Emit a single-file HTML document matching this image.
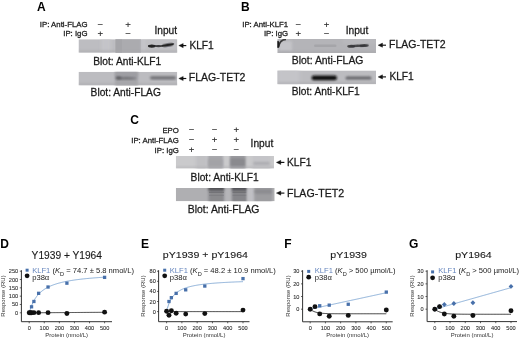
<!DOCTYPE html>
<html><head><meta charset="utf-8"><title>Figure</title>
<style>html,body{margin:0;padding:0;background:#fff;width:520px;height:339px;overflow:hidden}svg{display:block}</style>
</head><body>
<svg width="520" height="339" viewBox="0 0 520 339" font-family="'Liberation Sans', Arial, sans-serif">
<defs><filter id="bl3" x="-50%" y="-50%" width="200%" height="200%"><feGaussianBlur stdDeviation="0.3"/></filter><filter id="bl4" x="-50%" y="-50%" width="200%" height="200%"><feGaussianBlur stdDeviation="0.4"/></filter><filter id="bl5" x="-50%" y="-50%" width="200%" height="200%"><feGaussianBlur stdDeviation="0.5"/></filter><filter id="bl6" x="-50%" y="-50%" width="200%" height="200%"><feGaussianBlur stdDeviation="0.6"/></filter><filter id="bl7" x="-50%" y="-50%" width="200%" height="200%"><feGaussianBlur stdDeviation="0.7"/></filter><filter id="bl8" x="-50%" y="-50%" width="200%" height="200%"><feGaussianBlur stdDeviation="0.8"/></filter><filter id="bl10" x="-50%" y="-50%" width="200%" height="200%"><feGaussianBlur stdDeviation="1.0"/></filter><filter id="bl12" x="-50%" y="-50%" width="200%" height="200%"><feGaussianBlur stdDeviation="1.2"/></filter><filter id="bl15" x="-50%" y="-50%" width="200%" height="200%"><feGaussianBlur stdDeviation="1.5"/></filter><filter id="bl20" x="-50%" y="-50%" width="200%" height="200%"><feGaussianBlur stdDeviation="2.0"/></filter><filter id="bl25" x="-50%" y="-50%" width="200%" height="200%"><feGaussianBlur stdDeviation="2.5"/></filter><filter id="bl30" x="-50%" y="-50%" width="200%" height="200%"><feGaussianBlur stdDeviation="3.0"/></filter><clipPath id="bc0"><rect x="78.5" y="39.2" width="98.80" height="13.60"/></clipPath><clipPath id="bc1"><rect x="78.5" y="71.8" width="98.80" height="13.60"/></clipPath><clipPath id="bc2"><rect x="277.3" y="39.0" width="98.70" height="14.00"/></clipPath><clipPath id="bc3"><rect x="277.3" y="70.4" width="98.70" height="13.80"/></clipPath><clipPath id="bc4"><rect x="175.8" y="155.9" width="98.20" height="12.70"/></clipPath><clipPath id="bc5"><rect x="175.8" y="188.0" width="98.90" height="13.30"/></clipPath></defs>
<rect width="520" height="339" fill="#fff"/>
<text x="37.00" y="10.80" font-size="12" text-anchor="start" font-weight="bold" fill="#000" >A</text>
<text x="87.50" y="27.30" font-size="7.8" text-anchor="end" font-weight="normal" fill="#1a1a1a" stroke="#1a1a1a" stroke-width="0.26">IP: Anti-FLAG</text>
<text x="87.50" y="36.40" font-size="7.8" text-anchor="end" font-weight="normal" fill="#1a1a1a" stroke="#1a1a1a" stroke-width="0.26">IP: IgG</text>
<text x="100.20" y="27.60" font-size="9.6" text-anchor="middle" font-weight="normal" fill="#1a1a1a" stroke="#1a1a1a" stroke-width="0.1">−</text>
<text x="128.00" y="27.60" font-size="9.6" text-anchor="middle" font-weight="normal" fill="#1a1a1a" stroke="#1a1a1a" stroke-width="0.1">+</text>
<text x="100.20" y="36.70" font-size="9.6" text-anchor="middle" font-weight="normal" fill="#1a1a1a" stroke="#1a1a1a" stroke-width="0.1">+</text>
<text x="128.00" y="36.70" font-size="9.6" text-anchor="middle" font-weight="normal" fill="#1a1a1a" stroke="#1a1a1a" stroke-width="0.1">−</text>
<text x="154.40" y="33.80" font-size="10.2" text-anchor="start" font-weight="normal" fill="#1a1a1a" stroke="#1a1a1a" stroke-width="0.26">Input</text>
<g clip-path="url(#bc0)">
<rect x="78.50" y="39.20" width="98.80" height="13.60" fill="#bdbdc1" />
<rect x="101.00" y="35.20" width="10.00" height="21.60" fill="#c8c8cc" opacity="0.7" filter="url(#bl15)"/>
<rect x="115.50" y="35.20" width="25.50" height="21.60" fill="#aaaaae" opacity="0.95" filter="url(#bl11)"/>
<rect x="115.50" y="35.20" width="6.50" height="21.60" fill="#a0a0a4" opacity="0.55" filter="url(#bl14)"/>
<rect x="141.00" y="35.20" width="6.00" height="21.60" fill="#c6c6ca" opacity="0.8" filter="url(#bl12)"/>
<rect x="147.00" y="35.20" width="30.00" height="21.60" fill="#c2c2c6" opacity="0.8" filter="url(#bl10)"/>
<rect x="79.00" y="50.30" width="99.00" height="2.70" fill="#a8a8ac" opacity="0.5" filter="url(#bl8)"/>
<ellipse cx="151.80" cy="46.10" rx="3.90" ry="1.55" fill="#1c1c1e" opacity="0.95" filter="url(#bl7)" transform="rotate(0 151.80 46.10)"/>
<ellipse cx="158.50" cy="46.10" rx="4.50" ry="1.05" fill="#2e2e30" opacity="0.9" filter="url(#bl6)" transform="rotate(0 158.50 46.10)"/>
<ellipse cx="167.80" cy="45.00" rx="6.50" ry="1.60" fill="#1c1c1e" opacity="0.95" filter="url(#bl7)" transform="rotate(-9 167.80 45.00)"/>

</g>
<g clip-path="url(#bc1)">
<rect x="78.50" y="71.80" width="98.80" height="13.60" fill="#bcbcc0" />
<rect x="115.00" y="67.80" width="23.00" height="21.60" fill="#a4a4a8" opacity="0.9" filter="url(#bl12)"/>
<rect x="115.00" y="72.00" width="23.00" height="5.00" fill="#9a9a9e" opacity="0.6" filter="url(#bl12)"/>
<ellipse cx="126.50" cy="78.30" rx="10.50" ry="1.30" fill="#646468" opacity="0.85" filter="url(#bl8)" transform="rotate(0 126.50 78.30)"/>
<ellipse cx="118.50" cy="78.00" rx="3.00" ry="1.40" fill="#48484c" opacity="0.75" filter="url(#bl8)" transform="rotate(0 118.50 78.00)"/>
<rect x="150.00" y="76.20" width="26.00" height="3.20" rx="1.60" fill="#646468" opacity="0.85" filter="url(#bl8)"/>
<rect x="79.00" y="83.00" width="99.00" height="3.00" fill="#a8a8ac" opacity="0.5" filter="url(#bl8)"/>

</g>
<text x="93.30" y="64.80" font-size="10.2" text-anchor="start" font-weight="normal" fill="#1a1a1a" stroke="#1a1a1a" stroke-width="0.26">Blot: Anti-KLF1</text>
<text x="90.60" y="96.40" font-size="10.2" text-anchor="start" font-weight="normal" fill="#1a1a1a" stroke="#1a1a1a" stroke-width="0.26">Blot: Anti-FLAG</text>
<line x1="182.00" y1="45.60" x2="186.30" y2="45.60" stroke="#111" stroke-width="1.15"/>
<path d="M178.80 45.60 L183.20 43.50 L183.20 47.70 Z" fill="#111" stroke="#111" stroke-width="0.4" stroke-linejoin="round"/>
<text x="189.40" y="49.30" font-size="10.2" text-anchor="start" font-weight="normal" fill="#1a1a1a" stroke="#1a1a1a" stroke-width="0.26">KLF1</text>
<line x1="182.00" y1="78.50" x2="186.30" y2="78.50" stroke="#111" stroke-width="1.15"/>
<path d="M178.80 78.50 L183.20 76.40 L183.20 80.60 Z" fill="#111" stroke="#111" stroke-width="0.4" stroke-linejoin="round"/>
<text x="188.80" y="80.90" font-size="10.5" text-anchor="start" font-weight="normal" fill="#1a1a1a" stroke="#1a1a1a" stroke-width="0.26">FLAG-TET2</text>
<text x="241.00" y="10.80" font-size="12" text-anchor="start" font-weight="bold" fill="#000" >B</text>
<text x="288.20" y="27.30" font-size="7.8" text-anchor="end" font-weight="normal" fill="#1a1a1a" stroke="#1a1a1a" stroke-width="0.26">IP: Anti-KLF1</text>
<text x="288.20" y="36.40" font-size="7.8" text-anchor="end" font-weight="normal" fill="#1a1a1a" stroke="#1a1a1a" stroke-width="0.26">IP: IgG</text>
<text x="298.20" y="27.60" font-size="9.6" text-anchor="middle" font-weight="normal" fill="#1a1a1a" stroke="#1a1a1a" stroke-width="0.1">−</text>
<text x="326.60" y="27.60" font-size="9.6" text-anchor="middle" font-weight="normal" fill="#1a1a1a" stroke="#1a1a1a" stroke-width="0.1">+</text>
<text x="298.20" y="36.70" font-size="9.6" text-anchor="middle" font-weight="normal" fill="#1a1a1a" stroke="#1a1a1a" stroke-width="0.1">+</text>
<text x="326.60" y="36.70" font-size="9.6" text-anchor="middle" font-weight="normal" fill="#1a1a1a" stroke="#1a1a1a" stroke-width="0.1">−</text>
<text x="345.70" y="33.80" font-size="10.2" text-anchor="start" font-weight="normal" fill="#1a1a1a" stroke="#1a1a1a" stroke-width="0.26">Input</text>
<g clip-path="url(#bc2)">
<rect x="277.30" y="39.00" width="98.70" height="14.00" fill="#b4b4b8" />
<rect x="279.00" y="41.00" width="13.00" height="10.00" fill="#c6c6ca" opacity="0.9" filter="url(#bl15)"/>
<rect x="314.00" y="44.50" width="22.50" height="2.60" rx="1.30" fill="#9c9ca0" opacity="0.6" filter="url(#bl9)"/>
<rect x="343.00" y="38.00" width="33.00" height="6.00" fill="#bcbcc0" opacity="0.6" filter="url(#bl10)"/>
<ellipse cx="357.70" cy="45.80" rx="10.00" ry="1.20" fill="#3a3a3e" opacity="0.9" filter="url(#bl7)" transform="rotate(-2.5 357.70 45.80)"/>
<ellipse cx="351.20" cy="46.20" rx="4.00" ry="1.50" fill="#333336" opacity="0.8" filter="url(#bl6)" transform="rotate(0 351.20 46.20)"/>
<ellipse cx="364.20" cy="45.40" rx="4.60" ry="1.50" fill="#333336" opacity="0.8" filter="url(#bl6)" transform="rotate(-3 364.20 45.40)"/>
<rect x="278.00" y="51.00" width="98.00" height="3.00" fill="#a4a4a8" opacity="0.5" filter="url(#bl8)"/>
<path d="M286 39.4 Q279.5 39.6 278.4 47.5" stroke="#3a3a3a" stroke-width="1.6" fill="none" filter="url(#bl5)"/><ellipse cx="277.9" cy="44.3" rx="1.5" ry="3.6" fill="#1e1e1e" filter="url(#bl5)"/>
</g>
<g clip-path="url(#bc3)">
<rect x="277.30" y="70.40" width="98.70" height="13.80" fill="#bcbcc0" />
<rect x="277.00" y="66.40" width="23.00" height="21.80" fill="#c6c6ca" opacity="0.8" filter="url(#bl20)"/>
<rect x="311.50" y="75.45" width="25.50" height="4.90" rx="2.45" fill="#0e0e0e" opacity="1.0" filter="url(#bl8)"/>
<rect x="345.50" y="76.40" width="26.00" height="3.20" rx="1.60" fill="#5c5c60" opacity="0.9" filter="url(#bl8)"/>
<rect x="278.00" y="82.00" width="98.00" height="3.00" fill="#a8a8ac" opacity="0.5" filter="url(#bl8)"/>

</g>
<text x="291.80" y="64.20" font-size="10.4" text-anchor="start" font-weight="normal" fill="#1a1a1a" stroke="#1a1a1a" stroke-width="0.26">Blot: Anti-FLAG</text>
<text x="291.80" y="95.00" font-size="10.2" text-anchor="start" font-weight="normal" fill="#1a1a1a" stroke="#1a1a1a" stroke-width="0.26">Blot: Anti-KLF1</text>
<line x1="381.30" y1="45.20" x2="386.00" y2="45.20" stroke="#111" stroke-width="1.15"/>
<path d="M378.10 45.20 L382.50 43.10 L382.50 47.30 Z" fill="#111" stroke="#111" stroke-width="0.4" stroke-linejoin="round"/>
<text x="389.00" y="48.10" font-size="10.5" text-anchor="start" font-weight="normal" fill="#1a1a1a" stroke="#1a1a1a" stroke-width="0.26">FLAG-TET2</text>
<line x1="381.30" y1="76.90" x2="386.00" y2="76.90" stroke="#111" stroke-width="1.15"/>
<path d="M378.10 76.90 L382.50 74.80 L382.50 79.00 Z" fill="#111" stroke="#111" stroke-width="0.4" stroke-linejoin="round"/>
<text x="389.40" y="80.10" font-size="10.2" text-anchor="start" font-weight="normal" fill="#1a1a1a" stroke="#1a1a1a" stroke-width="0.26">KLF1</text>
<text x="130.20" y="124.20" font-size="12" text-anchor="start" font-weight="bold" fill="#000" >C</text>
<text x="178.90" y="133.00" font-size="7.8" text-anchor="end" font-weight="normal" fill="#1a1a1a" stroke="#1a1a1a" stroke-width="0.26">EPO</text>
<text x="178.90" y="143.10" font-size="7.8" text-anchor="end" font-weight="normal" fill="#1a1a1a" stroke="#1a1a1a" stroke-width="0.26">IP: Anti-FLAG</text>
<text x="178.90" y="152.80" font-size="7.8" text-anchor="end" font-weight="normal" fill="#1a1a1a" stroke="#1a1a1a" stroke-width="0.26">IP: IgG</text>
<text x="191.60" y="133.20" font-size="9.6" text-anchor="middle" font-weight="normal" fill="#1a1a1a" stroke="#1a1a1a" stroke-width="0.1">−</text>
<text x="214.60" y="133.20" font-size="9.6" text-anchor="middle" font-weight="normal" fill="#1a1a1a" stroke="#1a1a1a" stroke-width="0.1">−</text>
<text x="236.30" y="133.20" font-size="9.6" text-anchor="middle" font-weight="normal" fill="#1a1a1a" stroke="#1a1a1a" stroke-width="0.1">+</text>
<text x="191.60" y="143.30" font-size="9.6" text-anchor="middle" font-weight="normal" fill="#1a1a1a" stroke="#1a1a1a" stroke-width="0.1">−</text>
<text x="214.60" y="143.30" font-size="9.6" text-anchor="middle" font-weight="normal" fill="#1a1a1a" stroke="#1a1a1a" stroke-width="0.1">+</text>
<text x="236.30" y="143.30" font-size="9.6" text-anchor="middle" font-weight="normal" fill="#1a1a1a" stroke="#1a1a1a" stroke-width="0.1">+</text>
<text x="191.60" y="153.00" font-size="9.6" text-anchor="middle" font-weight="normal" fill="#1a1a1a" stroke="#1a1a1a" stroke-width="0.1">+</text>
<text x="214.60" y="153.00" font-size="9.6" text-anchor="middle" font-weight="normal" fill="#1a1a1a" stroke="#1a1a1a" stroke-width="0.1">−</text>
<text x="236.30" y="153.00" font-size="9.6" text-anchor="middle" font-weight="normal" fill="#1a1a1a" stroke="#1a1a1a" stroke-width="0.1">−</text>
<text x="250.60" y="147.20" font-size="10.2" text-anchor="start" font-weight="normal" fill="#1a1a1a" stroke="#1a1a1a" stroke-width="0.26">Input</text>
<g clip-path="url(#bc4)">
<rect x="175.80" y="155.90" width="98.20" height="12.70" fill="#cacacc" />
<rect x="196.00" y="151.90" width="11.00" height="20.70" fill="#bdbdc1" opacity="0.8" filter="url(#bl15)"/>
<rect x="208.00" y="151.90" width="15.00" height="20.70" fill="#a6a6aa" opacity="0.95" filter="url(#bl12)"/>
<rect x="208.00" y="159.00" width="15.00" height="8.00" fill="#a0a0a4" opacity="0.6" filter="url(#bl12)"/>
<rect x="230.00" y="151.90" width="15.50" height="20.70" fill="#98989c" opacity="0.95" filter="url(#bl10)"/>
<rect x="230.50" y="158.50" width="14.50" height="8.00" fill="#848488" opacity="0.75" filter="url(#bl12)"/>
<rect x="252.00" y="151.90" width="18.50" height="20.70" fill="#c4c4c8" opacity="0.9" filter="url(#bl12)"/>
<rect x="253.00" y="161.70" width="17.00" height="3.20" rx="1.60" fill="#a6a6aa" opacity="0.75" filter="url(#bl10)"/>
<rect x="176.00" y="166.50" width="98.00" height="2.50" fill="#b0b0b4" opacity="0.5" filter="url(#bl8)"/>

</g>
<g clip-path="url(#bc5)">
<rect x="175.80" y="188.00" width="98.90" height="13.30" fill="#afafb2" />
<rect x="208.50" y="184.00" width="16.00" height="21.30" fill="#88888c" opacity="0.95" filter="url(#bl10)"/>
<rect x="208.50" y="186.00" width="16.00" height="4.60" fill="#4a4a4e" opacity="0.85" filter="url(#bl8)"/>
<rect x="224.50" y="184.00" width="6.50" height="21.30" fill="#b8b8bc" opacity="0.7" filter="url(#bl10)"/>
<rect x="232.00" y="184.00" width="15.00" height="21.30" fill="#848488" opacity="0.95" filter="url(#bl10)"/>
<rect x="232.00" y="186.00" width="15.00" height="4.60" fill="#4e4e52" opacity="0.85" filter="url(#bl8)"/>
<rect x="209.00" y="191.80" width="15.00" height="1.10" fill="#606064" opacity="0.55" filter="url(#bl5)"/>
<rect x="232.50" y="191.80" width="14.00" height="1.10" fill="#606064" opacity="0.55" filter="url(#bl5)"/>
<rect x="209.00" y="194.80" width="15.00" height="0.90" fill="#6a6a6e" opacity="0.45" filter="url(#bl5)"/>
<rect x="232.50" y="194.80" width="14.00" height="0.90" fill="#6a6a6e" opacity="0.45" filter="url(#bl5)"/>
<rect x="247.00" y="184.00" width="7.50" height="21.30" fill="#c2c2c6" opacity="0.9" filter="url(#bl10)"/>
<rect x="254.50" y="184.00" width="17.50" height="21.30" fill="#9c9ca0" opacity="0.95" filter="url(#bl10)"/>
<rect x="254.50" y="189.50" width="17.50" height="4.00" fill="#808084" opacity="0.6" filter="url(#bl10)"/>

</g>
<text x="190.60" y="181.20" font-size="10.2" text-anchor="start" font-weight="normal" fill="#1a1a1a" stroke="#1a1a1a" stroke-width="0.26">Blot: Anti-KLF1</text>
<text x="187.80" y="212.80" font-size="10.4" text-anchor="start" font-weight="normal" fill="#1a1a1a" stroke="#1a1a1a" stroke-width="0.26">Blot: Anti-FLAG</text>
<line x1="279.60" y1="162.40" x2="284.40" y2="162.40" stroke="#111" stroke-width="1.15"/>
<path d="M276.40 162.40 L280.80 160.30 L280.80 164.50 Z" fill="#111" stroke="#111" stroke-width="0.4" stroke-linejoin="round"/>
<text x="287.00" y="166.00" font-size="10.2" text-anchor="start" font-weight="normal" fill="#1a1a1a" stroke="#1a1a1a" stroke-width="0.26">KLF1</text>
<line x1="279.60" y1="193.10" x2="284.40" y2="193.10" stroke="#111" stroke-width="1.15"/>
<path d="M276.40 193.10 L280.80 191.00 L280.80 195.20 Z" fill="#111" stroke="#111" stroke-width="0.4" stroke-linejoin="round"/>
<text x="287.00" y="196.70" font-size="10.6" text-anchor="start" font-weight="normal" fill="#1a1a1a" stroke="#1a1a1a" stroke-width="0.26">FLAG-TET2</text>
<text x="0.30" y="247.60" font-size="12" text-anchor="start" font-weight="bold" fill="#000" >D</text>
<text x="31.60" y="259.00" font-size="10.2" text-anchor="start" font-weight="normal" fill="#1a1a1a" stroke="#1a1a1a" stroke-width="0.12">Y1939 + Y1964</text>
<path d="M21.40 270.20 V321.70 H112.00" stroke="#333" stroke-width="1.0" fill="none"/>
<line x1="19.80" y1="312.80" x2="21.40" y2="312.80" stroke="#222" stroke-width="0.7"/>
<text x="18.20" y="314.80" font-size="5.6" text-anchor="end" font-weight="normal" fill="#2a2a2a" stroke="#2a2a2a" stroke-width="0.08">0</text>
<line x1="19.80" y1="304.48" x2="21.40" y2="304.48" stroke="#222" stroke-width="0.7"/>
<text x="18.20" y="306.48" font-size="5.6" text-anchor="end" font-weight="normal" fill="#2a2a2a" stroke="#2a2a2a" stroke-width="0.08">50</text>
<line x1="19.80" y1="296.16" x2="21.40" y2="296.16" stroke="#222" stroke-width="0.7"/>
<text x="18.20" y="298.16" font-size="5.6" text-anchor="end" font-weight="normal" fill="#2a2a2a" stroke="#2a2a2a" stroke-width="0.08">100</text>
<line x1="19.80" y1="287.84" x2="21.40" y2="287.84" stroke="#222" stroke-width="0.7"/>
<text x="18.20" y="289.84" font-size="5.6" text-anchor="end" font-weight="normal" fill="#2a2a2a" stroke="#2a2a2a" stroke-width="0.08">150</text>
<line x1="19.80" y1="279.52" x2="21.40" y2="279.52" stroke="#222" stroke-width="0.7"/>
<text x="18.20" y="281.52" font-size="5.6" text-anchor="end" font-weight="normal" fill="#2a2a2a" stroke="#2a2a2a" stroke-width="0.08">200</text>
<line x1="19.80" y1="271.20" x2="21.40" y2="271.20" stroke="#222" stroke-width="0.7"/>
<text x="18.20" y="273.20" font-size="5.6" text-anchor="end" font-weight="normal" fill="#2a2a2a" stroke="#2a2a2a" stroke-width="0.08">250</text>
<line x1="29.20" y1="321.70" x2="29.20" y2="323.30" stroke="#222" stroke-width="0.7"/>
<text x="29.20" y="329.70" font-size="5.6" text-anchor="middle" font-weight="normal" fill="#2a2a2a" stroke="#2a2a2a" stroke-width="0.08">0</text>
<line x1="44.28" y1="321.70" x2="44.28" y2="323.30" stroke="#222" stroke-width="0.7"/>
<text x="44.28" y="329.70" font-size="5.6" text-anchor="middle" font-weight="normal" fill="#2a2a2a" stroke="#2a2a2a" stroke-width="0.08">100</text>
<line x1="59.36" y1="321.70" x2="59.36" y2="323.30" stroke="#222" stroke-width="0.7"/>
<text x="59.36" y="329.70" font-size="5.6" text-anchor="middle" font-weight="normal" fill="#2a2a2a" stroke="#2a2a2a" stroke-width="0.08">200</text>
<line x1="74.44" y1="321.70" x2="74.44" y2="323.30" stroke="#222" stroke-width="0.7"/>
<text x="74.44" y="329.70" font-size="5.6" text-anchor="middle" font-weight="normal" fill="#2a2a2a" stroke="#2a2a2a" stroke-width="0.08">300</text>
<line x1="89.52" y1="321.70" x2="89.52" y2="323.30" stroke="#222" stroke-width="0.7"/>
<text x="89.52" y="329.70" font-size="5.6" text-anchor="middle" font-weight="normal" fill="#2a2a2a" stroke="#2a2a2a" stroke-width="0.08">400</text>
<line x1="104.60" y1="321.70" x2="104.60" y2="323.30" stroke="#222" stroke-width="0.7"/>
<text x="104.60" y="329.70" font-size="5.6" text-anchor="middle" font-weight="normal" fill="#2a2a2a" stroke="#2a2a2a" stroke-width="0.08">500</text>
<text x="66.70" y="336.60" font-size="6.0" text-anchor="middle" font-weight="normal" fill="#333" >Protein (nmol/L)</text>
<text x="0" y="0" font-size="6.0" text-anchor="middle" fill="#333" transform="translate(5.20,296) rotate(-90)">Response (RU)</text>
<polyline points="29.20,312.80 29.95,310.23 30.71,307.97 31.46,305.95 32.22,304.15 32.97,302.54 33.72,301.07 34.48,299.74 35.23,298.52 35.99,297.41 36.74,296.39 37.49,295.44 38.25,294.57 39.00,293.75 39.76,293.00 40.51,292.29 41.26,291.63 42.02,291.01 42.77,290.43 43.53,289.88 44.28,289.37 45.03,288.88 45.79,288.42 46.54,287.98 47.30,287.57 48.05,287.18 48.80,286.80 49.56,286.45 50.31,286.11 51.07,285.78 51.82,285.47 52.57,285.18 53.33,284.89 54.08,284.62 54.84,284.36 55.59,284.11 56.34,283.87 57.10,283.64 57.85,283.42 58.61,283.20 59.36,283.00 60.11,282.80 60.87,282.61 61.62,282.42 62.38,282.24 63.13,282.07 63.88,281.90 64.64,281.74 65.39,281.58 66.15,281.43 66.90,281.28 67.65,281.14 68.41,281.00 69.16,280.87 69.92,280.74 70.67,280.61 71.42,280.49 72.18,280.37 72.93,280.25 73.69,280.14 74.44,280.03 75.19,279.92 75.95,279.81 76.70,279.71 77.46,279.61 78.21,279.52 78.96,279.42 79.72,279.33 80.47,279.24 81.23,279.15 81.98,279.07 82.73,278.98 83.49,278.90 84.24,278.82 85.00,278.74 85.75,278.67 86.50,278.59 87.26,278.52 88.01,278.45 88.77,278.38 89.52,278.31 90.27,278.24 91.03,278.17 91.78,278.11 92.54,278.05 93.29,277.98 94.04,277.92 94.80,277.86 95.55,277.81 96.31,277.75 97.06,277.69 97.81,277.64 98.57,277.58 99.32,277.53 100.08,277.48 100.83,277.43 101.58,277.38 102.34,277.33 103.09,277.28 103.85,277.23 104.60,277.19" fill="none" stroke="#7ea6d3" stroke-width="0.9"/>
<polyline points="29.20,312.80 29.95,312.80 30.71,312.79 31.46,312.79 32.22,312.78 32.97,312.78 33.72,312.77 34.48,312.77 35.23,312.76 35.99,312.76 36.74,312.75 37.49,312.75 38.25,312.74 39.00,312.74 39.76,312.73 40.51,312.73 41.26,312.72 42.02,312.72 42.77,312.71 43.53,312.71 44.28,312.70 45.03,312.70 45.79,312.69 46.54,312.69 47.30,312.68 48.05,312.68 48.80,312.67 49.56,312.67 50.31,312.66 51.07,312.66 51.82,312.65 52.57,312.65 53.33,312.64 54.08,312.64 54.84,312.63 55.59,312.63 56.34,312.62 57.10,312.62 57.85,312.61 58.61,312.61 59.36,312.60 60.11,312.60 60.87,312.59 61.62,312.59 62.38,312.58 63.13,312.58 63.88,312.57 64.64,312.57 65.39,312.56 66.15,312.56 66.90,312.55 67.65,312.55 68.41,312.54 69.16,312.54 69.92,312.53 70.67,312.53 71.42,312.52 72.18,312.52 72.93,312.51 73.69,312.51 74.44,312.50 75.19,312.50 75.95,312.49 76.70,312.49 77.46,312.48 78.21,312.48 78.96,312.47 79.72,312.47 80.47,312.46 81.23,312.46 81.98,312.45 82.73,312.45 83.49,312.44 84.24,312.44 85.00,312.43 85.75,312.43 86.50,312.42 87.26,312.42 88.01,312.41 88.77,312.41 89.52,312.40 90.27,312.40 91.03,312.39 91.78,312.39 92.54,312.38 93.29,312.38 94.04,312.37 94.80,312.37 95.55,312.36 96.31,312.36 97.06,312.35 97.81,312.35 98.57,312.34 99.32,312.34 100.08,312.33 100.83,312.33 101.58,312.32 102.34,312.32 103.09,312.31 103.85,312.31 104.60,312.30" fill="none" stroke="#222" stroke-width="0.9"/>
<rect x="29.90" y="305.16" width="3.3" height="3.3" fill="#4870aa"/>
<rect x="32.26" y="299.83" width="3.3" height="3.3" fill="#4870aa"/>
<rect x="36.98" y="291.68" width="3.3" height="3.3" fill="#4870aa"/>
<rect x="46.40" y="285.36" width="3.3" height="3.3" fill="#4870aa"/>
<rect x="65.25" y="281.53" width="3.3" height="3.3" fill="#4870aa"/>
<rect x="102.95" y="275.71" width="3.3" height="3.3" fill="#4870aa"/>
<circle cx="29.20" cy="312.80" r="2.45" fill="#111"/>
<circle cx="30.38" cy="312.80" r="2.45" fill="#111"/>
<circle cx="31.55" cy="312.80" r="2.45" fill="#111"/>
<circle cx="33.91" cy="312.63" r="2.45" fill="#111"/>
<circle cx="38.62" cy="312.63" r="2.45" fill="#111"/>
<circle cx="48.05" cy="312.63" r="2.45" fill="#111"/>
<circle cx="66.90" cy="313.47" r="2.45" fill="#111"/>
<circle cx="104.60" cy="312.13" r="2.45" fill="#111"/>
<rect x="25.60" y="268.70" width="3.00" height="3.00" fill="#4870aa" />
<circle cx="27.10" cy="275.80" r="2.4" fill="#111"/>
<text x="32.20" y="273.00" font-size="7.6" text-anchor="start" font-weight="normal" fill="#1a1a1a" ><tspan fill="#6585bd">KLF1</tspan> (<tspan font-style="italic">K</tspan><tspan font-size="5.6" dy="3.2">D</tspan><tspan dy="-3.2"> = 74.7 ± 5.8 nmol/L)</tspan></text>
<text x="32.20" y="279.70" font-size="7.6" text-anchor="start" font-weight="normal" fill="#1a1a1a" >p38α</text>
<text x="141.00" y="247.60" font-size="12" text-anchor="start" font-weight="bold" fill="#000" >E</text>
<g transform="translate(162.8 257.9) scale(1.04 0.9)">
<text x="0.00" y="0.00" font-size="10.2" text-anchor="start" font-weight="normal" fill="#1a1a1a" stroke="#1a1a1a" stroke-width="0.12">pY1939 + pY1964</text>
</g>
<path d="M158.60 270.20 V321.70 H249.50" stroke="#333" stroke-width="1.0" fill="none"/>
<line x1="157.00" y1="311.60" x2="158.60" y2="311.60" stroke="#222" stroke-width="0.7"/>
<text x="155.80" y="313.60" font-size="5.6" text-anchor="end" font-weight="normal" fill="#2a2a2a" stroke="#2a2a2a" stroke-width="0.08">0</text>
<line x1="157.00" y1="301.50" x2="158.60" y2="301.50" stroke="#222" stroke-width="0.7"/>
<text x="155.80" y="303.50" font-size="5.6" text-anchor="end" font-weight="normal" fill="#2a2a2a" stroke="#2a2a2a" stroke-width="0.08">20</text>
<line x1="157.00" y1="291.40" x2="158.60" y2="291.40" stroke="#222" stroke-width="0.7"/>
<text x="155.80" y="293.40" font-size="5.6" text-anchor="end" font-weight="normal" fill="#2a2a2a" stroke="#2a2a2a" stroke-width="0.08">40</text>
<line x1="157.00" y1="281.30" x2="158.60" y2="281.30" stroke="#222" stroke-width="0.7"/>
<text x="155.80" y="283.30" font-size="5.6" text-anchor="end" font-weight="normal" fill="#2a2a2a" stroke="#2a2a2a" stroke-width="0.08">60</text>
<line x1="157.00" y1="271.20" x2="158.60" y2="271.20" stroke="#222" stroke-width="0.7"/>
<text x="155.80" y="273.20" font-size="5.6" text-anchor="end" font-weight="normal" fill="#2a2a2a" stroke="#2a2a2a" stroke-width="0.08">80</text>
<line x1="166.60" y1="321.70" x2="166.60" y2="323.30" stroke="#222" stroke-width="0.7"/>
<text x="166.60" y="329.70" font-size="5.6" text-anchor="middle" font-weight="normal" fill="#2a2a2a" stroke="#2a2a2a" stroke-width="0.08">0</text>
<line x1="181.88" y1="321.70" x2="181.88" y2="323.30" stroke="#222" stroke-width="0.7"/>
<text x="181.88" y="329.70" font-size="5.6" text-anchor="middle" font-weight="normal" fill="#2a2a2a" stroke="#2a2a2a" stroke-width="0.08">100</text>
<line x1="197.16" y1="321.70" x2="197.16" y2="323.30" stroke="#222" stroke-width="0.7"/>
<text x="197.16" y="329.70" font-size="5.6" text-anchor="middle" font-weight="normal" fill="#2a2a2a" stroke="#2a2a2a" stroke-width="0.08">200</text>
<line x1="212.44" y1="321.70" x2="212.44" y2="323.30" stroke="#222" stroke-width="0.7"/>
<text x="212.44" y="329.70" font-size="5.6" text-anchor="middle" font-weight="normal" fill="#2a2a2a" stroke="#2a2a2a" stroke-width="0.08">300</text>
<line x1="227.72" y1="321.70" x2="227.72" y2="323.30" stroke="#222" stroke-width="0.7"/>
<text x="227.72" y="329.70" font-size="5.6" text-anchor="middle" font-weight="normal" fill="#2a2a2a" stroke="#2a2a2a" stroke-width="0.08">400</text>
<line x1="243.00" y1="321.70" x2="243.00" y2="323.30" stroke="#222" stroke-width="0.7"/>
<text x="243.00" y="329.70" font-size="5.6" text-anchor="middle" font-weight="normal" fill="#2a2a2a" stroke="#2a2a2a" stroke-width="0.08">500</text>
<text x="204.05" y="336.60" font-size="6.0" text-anchor="middle" font-weight="normal" fill="#333" >Protein (nmol/L)</text>
<text x="0" y="0" font-size="6.0" text-anchor="middle" fill="#333" transform="translate(144.60,296) rotate(-90)">Response (RU)</text>
<polyline points="166.60,311.60 167.36,308.51 168.13,305.96 168.89,303.81 169.66,301.97 170.42,300.39 171.18,299.01 171.95,297.79 172.71,296.71 173.48,295.75 174.24,294.89 175.00,294.11 175.77,293.40 176.53,292.75 177.30,292.16 178.06,291.62 178.82,291.12 179.59,290.65 180.35,290.22 181.12,289.82 181.88,289.45 182.64,289.10 183.41,288.78 184.17,288.47 184.94,288.18 185.70,287.91 186.46,287.65 187.23,287.41 187.99,287.18 188.76,286.96 189.52,286.76 190.28,286.56 191.05,286.37 191.81,286.20 192.58,286.03 193.34,285.86 194.10,285.71 194.87,285.56 195.63,285.42 196.40,285.28 197.16,285.15 197.92,285.02 198.69,284.90 199.45,284.79 200.22,284.67 200.98,284.57 201.74,284.46 202.51,284.36 203.27,284.26 204.04,284.17 204.80,284.08 205.56,283.99 206.33,283.91 207.09,283.83 207.86,283.75 208.62,283.67 209.38,283.60 210.15,283.52 210.91,283.45 211.68,283.39 212.44,283.32 213.20,283.25 213.97,283.19 214.73,283.13 215.50,283.07 216.26,283.01 217.02,282.96 217.79,282.90 218.55,282.85 219.32,282.80 220.08,282.75 220.84,282.70 221.61,282.65 222.37,282.60 223.14,282.56 223.90,282.51 224.66,282.47 225.43,282.43 226.19,282.39 226.96,282.34 227.72,282.31 228.48,282.27 229.25,282.23 230.01,282.19 230.78,282.15 231.54,282.12 232.30,282.08 233.07,282.05 233.83,282.02 234.60,281.98 235.36,281.95 236.12,281.92 236.89,281.89 237.65,281.86 238.42,281.83 239.18,281.80 239.94,281.77 240.71,281.74 241.47,281.71 242.24,281.69 243.00,281.66" fill="none" stroke="#7ea6d3" stroke-width="0.9"/>
<polyline points="166.60,311.60 167.36,311.60 168.13,311.60 168.89,311.60 169.66,311.60 170.42,311.60 171.18,311.60 171.95,311.60 172.71,311.60 173.48,311.60 174.24,311.60 175.00,311.60 175.77,311.60 176.53,311.60 177.30,311.60 178.06,311.60 178.82,311.60 179.59,311.60 180.35,311.60 181.12,311.60 181.88,311.60 182.64,311.60 183.41,311.60 184.17,311.60 184.94,311.60 185.70,311.60 186.46,311.60 187.23,311.60 187.99,311.60 188.76,311.60 189.52,311.60 190.28,311.60 191.05,311.60 191.81,311.60 192.58,311.60 193.34,311.60 194.10,311.60 194.87,311.60 195.63,311.60 196.40,311.60 197.16,311.60 197.92,311.60 198.69,311.60 199.45,311.60 200.22,311.60 200.98,311.60 201.74,311.60 202.51,311.60 203.27,311.60 204.04,311.60 204.80,311.60 205.56,311.60 206.33,311.60 207.09,311.60 207.86,311.60 208.62,311.60 209.38,311.60 210.15,311.60 210.91,311.60 211.68,311.60 212.44,311.60 213.20,311.60 213.97,311.60 214.73,311.60 215.50,311.60 216.26,311.60 217.02,311.60 217.79,311.60 218.55,311.60 219.32,311.60 220.08,311.60 220.84,311.60 221.61,311.60 222.37,311.60 223.14,311.60 223.90,311.60 224.66,311.60 225.43,311.60 226.19,311.60 226.96,311.60 227.72,311.60 228.48,311.60 229.25,311.60 230.01,311.60 230.78,311.60 231.54,311.60 232.30,311.60 233.07,311.60 233.83,311.60 234.60,311.60 235.36,311.60 236.12,311.60 236.89,311.60 237.65,311.60 238.42,311.60 239.18,311.60 239.94,311.60 240.71,311.60 241.47,311.60 242.24,311.60 243.00,311.60" fill="none" stroke="#222" stroke-width="0.9"/>
<rect x="167.33" y="299.85" width="3.3" height="3.3" fill="#4870aa"/>
<rect x="169.72" y="296.01" width="3.3" height="3.3" fill="#4870aa"/>
<rect x="174.50" y="291.72" width="3.3" height="3.3" fill="#4870aa"/>
<rect x="184.05" y="288.18" width="3.3" height="3.3" fill="#4870aa"/>
<rect x="203.15" y="284.40" width="3.3" height="3.3" fill="#4870aa"/>
<rect x="241.35" y="276.97" width="3.3" height="3.3" fill="#4870aa"/>
<circle cx="166.60" cy="311.20" r="2.45" fill="#111"/>
<circle cx="168.98" cy="315.29" r="2.45" fill="#111"/>
<circle cx="171.38" cy="310.69" r="2.45" fill="#111"/>
<circle cx="176.15" cy="313.32" r="2.45" fill="#111"/>
<circle cx="185.70" cy="314.12" r="2.45" fill="#111"/>
<circle cx="204.80" cy="313.62" r="2.45" fill="#111"/>
<circle cx="243.00" cy="310.09" r="2.45" fill="#111"/>
<rect x="163.20" y="268.70" width="3.00" height="3.00" fill="#4870aa" />
<circle cx="164.70" cy="275.80" r="2.4" fill="#111"/>
<text x="169.80" y="273.00" font-size="7.6" text-anchor="start" font-weight="normal" fill="#1a1a1a" ><tspan fill="#6585bd">KLF1</tspan> (<tspan font-style="italic">K</tspan><tspan font-size="5.6" dy="3.2">D</tspan><tspan dy="-3.2"> = 48.2 ± 10.9 nmol/L)</tspan></text>
<text x="169.80" y="279.70" font-size="7.6" text-anchor="start" font-weight="normal" fill="#1a1a1a" >p38α</text>
<text x="284.30" y="247.60" font-size="12" text-anchor="start" font-weight="bold" fill="#000" >F</text>
<g transform="translate(330.3 257.9) scale(1.04 0.9)">
<text x="0.00" y="0.00" font-size="10.2" text-anchor="start" font-weight="normal" fill="#1a1a1a" stroke="#1a1a1a" stroke-width="0.12">pY1939</text>
</g>
<path d="M302.60 270.20 V321.80 H392.70" stroke="#333" stroke-width="1.0" fill="none"/>
<line x1="301.00" y1="309.20" x2="302.60" y2="309.20" stroke="#222" stroke-width="0.7"/>
<text x="299.40" y="311.20" font-size="5.6" text-anchor="end" font-weight="normal" fill="#2a2a2a" stroke="#2a2a2a" stroke-width="0.08">0</text>
<line x1="301.00" y1="296.53" x2="302.60" y2="296.53" stroke="#222" stroke-width="0.7"/>
<text x="299.40" y="298.53" font-size="5.6" text-anchor="end" font-weight="normal" fill="#2a2a2a" stroke="#2a2a2a" stroke-width="0.08">10</text>
<line x1="301.00" y1="283.87" x2="302.60" y2="283.87" stroke="#222" stroke-width="0.7"/>
<text x="299.40" y="285.87" font-size="5.6" text-anchor="end" font-weight="normal" fill="#2a2a2a" stroke="#2a2a2a" stroke-width="0.08">20</text>
<line x1="301.00" y1="271.20" x2="302.60" y2="271.20" stroke="#222" stroke-width="0.7"/>
<text x="299.40" y="273.20" font-size="5.6" text-anchor="end" font-weight="normal" fill="#2a2a2a" stroke="#2a2a2a" stroke-width="0.08">30</text>
<line x1="310.20" y1="321.80" x2="310.20" y2="323.40" stroke="#222" stroke-width="0.7"/>
<text x="310.20" y="329.80" font-size="5.6" text-anchor="middle" font-weight="normal" fill="#2a2a2a" stroke="#2a2a2a" stroke-width="0.08">0</text>
<line x1="325.42" y1="321.80" x2="325.42" y2="323.40" stroke="#222" stroke-width="0.7"/>
<text x="325.42" y="329.80" font-size="5.6" text-anchor="middle" font-weight="normal" fill="#2a2a2a" stroke="#2a2a2a" stroke-width="0.08">100</text>
<line x1="340.64" y1="321.80" x2="340.64" y2="323.40" stroke="#222" stroke-width="0.7"/>
<text x="340.64" y="329.80" font-size="5.6" text-anchor="middle" font-weight="normal" fill="#2a2a2a" stroke="#2a2a2a" stroke-width="0.08">200</text>
<line x1="355.86" y1="321.80" x2="355.86" y2="323.40" stroke="#222" stroke-width="0.7"/>
<text x="355.86" y="329.80" font-size="5.6" text-anchor="middle" font-weight="normal" fill="#2a2a2a" stroke="#2a2a2a" stroke-width="0.08">300</text>
<line x1="371.08" y1="321.80" x2="371.08" y2="323.40" stroke="#222" stroke-width="0.7"/>
<text x="371.08" y="329.80" font-size="5.6" text-anchor="middle" font-weight="normal" fill="#2a2a2a" stroke="#2a2a2a" stroke-width="0.08">400</text>
<line x1="386.30" y1="321.80" x2="386.30" y2="323.40" stroke="#222" stroke-width="0.7"/>
<text x="386.30" y="329.80" font-size="5.6" text-anchor="middle" font-weight="normal" fill="#2a2a2a" stroke="#2a2a2a" stroke-width="0.08">500</text>
<text x="347.65" y="336.60" font-size="6.0" text-anchor="middle" font-weight="normal" fill="#333" >Protein (nmol/L)</text>
<text x="0" y="0" font-size="6.0" text-anchor="middle" fill="#333" transform="translate(290.20,296) rotate(-90)">Response (RU)</text>
<polyline points="310.20,309.20 310.96,309.04 311.72,308.87 312.48,308.71 313.24,308.54 314.00,308.38 314.77,308.21 315.53,308.05 316.29,307.88 317.05,307.72 317.81,307.55 318.57,307.39 319.33,307.22 320.09,307.06 320.85,306.89 321.62,306.73 322.38,306.57 323.14,306.40 323.90,306.24 324.66,306.07 325.42,305.91 326.18,305.74 326.94,305.58 327.70,305.41 328.46,305.25 329.23,305.08 329.99,304.92 330.75,304.75 331.51,304.59 332.27,304.42 333.03,304.26 333.79,304.10 334.55,303.93 335.31,303.77 336.07,303.60 336.83,303.44 337.60,303.27 338.36,303.11 339.12,302.94 339.88,302.78 340.64,302.61 341.40,302.45 342.16,302.28 342.92,302.12 343.68,301.95 344.44,301.79 345.21,301.63 345.97,301.46 346.73,301.30 347.49,301.13 348.25,300.97 349.01,300.80 349.77,300.64 350.53,300.47 351.29,300.31 352.06,300.14 352.82,299.98 353.58,299.81 354.34,299.65 355.10,299.48 355.86,299.32 356.62,299.16 357.38,298.99 358.14,298.83 358.90,298.66 359.67,298.50 360.43,298.33 361.19,298.17 361.95,298.00 362.71,297.84 363.47,297.67 364.23,297.51 364.99,297.34 365.75,297.18 366.51,297.01 367.28,296.85 368.04,296.69 368.80,296.52 369.56,296.36 370.32,296.19 371.08,296.03 371.84,295.86 372.60,295.70 373.36,295.53 374.12,295.37 374.88,295.20 375.65,295.04 376.41,294.87 377.17,294.71 377.93,294.54 378.69,294.38 379.45,294.22 380.21,294.05 380.97,293.89 381.73,293.72 382.50,293.56 383.26,293.39 384.02,293.23 384.78,293.06 385.54,292.90 386.30,292.73" fill="none" stroke="#7ea6d3" stroke-width="0.9"/>
<polyline points="310.20,309.20 310.96,309.81 311.72,310.33 312.48,310.79 313.24,311.18 314.00,311.53 314.77,311.82 315.53,312.08 316.29,312.31 317.05,312.50 317.81,312.67 318.57,312.81 319.33,312.94 320.09,313.05 320.85,313.14 321.62,313.23 322.38,313.30 323.14,313.36 323.90,313.41 324.66,313.46 325.42,313.50 326.18,313.53 326.94,313.56 327.70,313.59 328.46,313.61 329.23,313.63 329.99,313.65 330.75,313.66 331.51,313.68 332.27,313.69 333.03,313.70 333.79,313.71 334.55,313.71 335.31,313.72 336.07,313.72 336.83,313.73 337.60,313.73 338.36,313.74 339.12,313.74 339.88,313.74 340.64,313.74 341.40,313.75 342.16,313.75 342.92,313.75 343.68,313.75 344.44,313.75 345.21,313.75 345.97,313.75 346.73,313.76 347.49,313.76 348.25,313.76 349.01,313.76 349.77,313.76 350.53,313.76 351.29,313.76 352.06,313.76 352.82,313.76 353.58,313.76 354.34,313.76 355.10,313.76 355.86,313.76 356.62,313.76 357.38,313.76 358.14,313.76 358.90,313.76 359.67,313.76 360.43,313.76 361.19,313.76 361.95,313.76 362.71,313.76 363.47,313.76 364.23,313.76 364.99,313.76 365.75,313.76 366.51,313.76 367.28,313.76 368.04,313.76 368.80,313.76 369.56,313.76 370.32,313.76 371.08,313.76 371.84,313.76 372.60,313.76 373.36,313.76 374.12,313.76 374.88,313.76 375.65,313.76 376.41,313.76 377.17,313.76 377.93,313.76 378.69,313.76 379.45,313.76 380.21,313.76 380.97,313.76 381.73,313.76 382.50,313.76 383.26,313.76 384.02,313.76 384.78,313.76 385.54,313.76 386.30,313.76" fill="none" stroke="#222" stroke-width="0.9"/>
<rect x="308.55" y="307.55" width="3.3" height="3.3" fill="#4870aa"/>
<rect x="313.31" y="305.02" width="3.3" height="3.3" fill="#4870aa"/>
<rect x="318.06" y="304.13" width="3.3" height="3.3" fill="#4870aa"/>
<rect x="327.58" y="303.50" width="3.3" height="3.3" fill="#4870aa"/>
<rect x="346.60" y="302.61" width="3.3" height="3.3" fill="#4870aa"/>
<rect x="384.65" y="290.45" width="3.3" height="3.3" fill="#4870aa"/>
<circle cx="310.20" cy="309.20" r="2.45" fill="#111"/>
<circle cx="314.96" cy="306.67" r="2.45" fill="#111"/>
<circle cx="319.71" cy="313.89" r="2.45" fill="#111"/>
<circle cx="329.23" cy="316.29" r="2.45" fill="#111"/>
<circle cx="348.25" cy="315.41" r="2.45" fill="#111"/>
<circle cx="386.30" cy="309.96" r="2.45" fill="#111"/>
<rect x="307.20" y="269.90" width="3.00" height="3.00" fill="#4870aa" />
<circle cx="308.70" cy="277.20" r="2.4" fill="#111"/>
<text x="314.80" y="273.00" font-size="7.6" text-anchor="start" font-weight="normal" fill="#1a1a1a" ><tspan fill="#6585bd">KLF1</tspan> (<tspan font-style="italic">K</tspan><tspan font-size="5.6" dy="3.2">D</tspan><tspan dy="-3.2"> &gt; 500 µmol/L)</tspan></text>
<text x="314.80" y="280.00" font-size="7.6" text-anchor="start" font-weight="normal" fill="#1a1a1a" >p38α</text>
<text x="409.10" y="247.60" font-size="12" text-anchor="start" font-weight="bold" fill="#000" >G</text>
<g transform="translate(455.2 257.9) scale(1.04 0.9)">
<text x="0.00" y="0.00" font-size="10.2" text-anchor="start" font-weight="normal" fill="#1a1a1a" stroke="#1a1a1a" stroke-width="0.12">pY1964</text>
</g>
<path d="M427.10 270.20 V321.60 H517.00" stroke="#333" stroke-width="1.0" fill="none"/>
<line x1="425.50" y1="309.20" x2="427.10" y2="309.20" stroke="#222" stroke-width="0.7"/>
<text x="423.60" y="311.20" font-size="5.6" text-anchor="end" font-weight="normal" fill="#2a2a2a" stroke="#2a2a2a" stroke-width="0.08">0</text>
<line x1="425.50" y1="296.53" x2="427.10" y2="296.53" stroke="#222" stroke-width="0.7"/>
<text x="423.60" y="298.53" font-size="5.6" text-anchor="end" font-weight="normal" fill="#2a2a2a" stroke="#2a2a2a" stroke-width="0.08">10</text>
<line x1="425.50" y1="283.87" x2="427.10" y2="283.87" stroke="#222" stroke-width="0.7"/>
<text x="423.60" y="285.87" font-size="5.6" text-anchor="end" font-weight="normal" fill="#2a2a2a" stroke="#2a2a2a" stroke-width="0.08">20</text>
<line x1="425.50" y1="271.20" x2="427.10" y2="271.20" stroke="#222" stroke-width="0.7"/>
<text x="423.60" y="273.20" font-size="5.6" text-anchor="end" font-weight="normal" fill="#2a2a2a" stroke="#2a2a2a" stroke-width="0.08">30</text>
<line x1="434.80" y1="321.60" x2="434.80" y2="323.20" stroke="#222" stroke-width="0.7"/>
<text x="434.80" y="329.60" font-size="5.6" text-anchor="middle" font-weight="normal" fill="#2a2a2a" stroke="#2a2a2a" stroke-width="0.08">0</text>
<line x1="450.04" y1="321.60" x2="450.04" y2="323.20" stroke="#222" stroke-width="0.7"/>
<text x="450.04" y="329.60" font-size="5.6" text-anchor="middle" font-weight="normal" fill="#2a2a2a" stroke="#2a2a2a" stroke-width="0.08">100</text>
<line x1="465.28" y1="321.60" x2="465.28" y2="323.20" stroke="#222" stroke-width="0.7"/>
<text x="465.28" y="329.60" font-size="5.6" text-anchor="middle" font-weight="normal" fill="#2a2a2a" stroke="#2a2a2a" stroke-width="0.08">200</text>
<line x1="480.52" y1="321.60" x2="480.52" y2="323.20" stroke="#222" stroke-width="0.7"/>
<text x="480.52" y="329.60" font-size="5.6" text-anchor="middle" font-weight="normal" fill="#2a2a2a" stroke="#2a2a2a" stroke-width="0.08">300</text>
<line x1="495.76" y1="321.60" x2="495.76" y2="323.20" stroke="#222" stroke-width="0.7"/>
<text x="495.76" y="329.60" font-size="5.6" text-anchor="middle" font-weight="normal" fill="#2a2a2a" stroke="#2a2a2a" stroke-width="0.08">400</text>
<line x1="511.00" y1="321.60" x2="511.00" y2="323.20" stroke="#222" stroke-width="0.7"/>
<text x="511.00" y="329.60" font-size="5.6" text-anchor="middle" font-weight="normal" fill="#2a2a2a" stroke="#2a2a2a" stroke-width="0.08">500</text>
<text x="472.05" y="336.60" font-size="6.0" text-anchor="middle" font-weight="normal" fill="#333" >Protein (nmol/L)</text>
<text x="0" y="0" font-size="6.0" text-anchor="middle" fill="#333" transform="translate(414.40,296) rotate(-90)">Response (RU)</text>
<polyline points="434.80,309.20 435.56,308.98 436.32,308.77 437.09,308.55 437.85,308.34 438.61,308.12 439.37,307.91 440.13,307.69 440.90,307.48 441.66,307.26 442.42,307.05 443.18,306.83 443.94,306.62 444.71,306.40 445.47,306.19 446.23,305.97 446.99,305.75 447.75,305.54 448.52,305.32 449.28,305.11 450.04,304.89 450.80,304.68 451.56,304.46 452.33,304.25 453.09,304.03 453.85,303.82 454.61,303.60 455.37,303.39 456.14,303.17 456.90,302.96 457.66,302.74 458.42,302.52 459.18,302.31 459.95,302.09 460.71,301.88 461.47,301.66 462.23,301.45 462.99,301.23 463.76,301.02 464.52,300.80 465.28,300.59 466.04,300.37 466.80,300.16 467.57,299.94 468.33,299.73 469.09,299.51 469.85,299.29 470.61,299.08 471.38,298.86 472.14,298.65 472.90,298.43 473.66,298.22 474.42,298.00 475.19,297.79 475.95,297.57 476.71,297.36 477.47,297.14 478.23,296.93 479.00,296.71 479.76,296.50 480.52,296.28 481.28,296.06 482.04,295.85 482.81,295.63 483.57,295.42 484.33,295.20 485.09,294.99 485.85,294.77 486.62,294.56 487.38,294.34 488.14,294.13 488.90,293.91 489.66,293.70 490.43,293.48 491.19,293.27 491.95,293.05 492.71,292.83 493.47,292.62 494.24,292.40 495.00,292.19 495.76,291.97 496.52,291.76 497.28,291.54 498.05,291.33 498.81,291.11 499.57,290.90 500.33,290.68 501.09,290.47 501.86,290.25 502.62,290.04 503.38,289.82 504.14,289.60 504.90,289.39 505.67,289.17 506.43,288.96 507.19,288.74 507.95,288.53 508.71,288.31 509.48,288.10 510.24,287.88 511.00,287.67" fill="none" stroke="#7ea6d3" stroke-width="0.9"/>
<polyline points="434.80,309.20 435.56,309.80 436.32,310.32 437.09,310.78 437.85,311.19 438.61,311.55 439.37,311.87 440.13,312.15 440.90,312.40 441.66,312.62 442.42,312.82 443.18,312.99 443.94,313.14 444.71,313.27 445.47,313.39 446.23,313.49 446.99,313.58 447.75,313.66 448.52,313.73 449.28,313.80 450.04,313.85 450.80,313.90 451.56,313.94 452.33,313.98 453.09,314.01 453.85,314.04 454.61,314.07 455.37,314.09 456.14,314.11 456.90,314.13 457.66,314.15 458.42,314.16 459.18,314.17 459.95,314.18 460.71,314.19 461.47,314.20 462.23,314.21 462.99,314.22 463.76,314.22 464.52,314.23 465.28,314.23 466.04,314.24 466.80,314.24 467.57,314.24 468.33,314.25 469.09,314.25 469.85,314.25 470.61,314.25 471.38,314.25 472.14,314.26 472.90,314.26 473.66,314.26 474.42,314.26 475.19,314.26 475.95,314.26 476.71,314.26 477.47,314.26 478.23,314.26 479.00,314.26 479.76,314.26 480.52,314.26 481.28,314.26 482.04,314.26 482.81,314.26 483.57,314.26 484.33,314.27 485.09,314.27 485.85,314.27 486.62,314.27 487.38,314.27 488.14,314.27 488.90,314.27 489.66,314.27 490.43,314.27 491.19,314.27 491.95,314.27 492.71,314.27 493.47,314.27 494.24,314.27 495.00,314.27 495.76,314.27 496.52,314.27 497.28,314.27 498.05,314.27 498.81,314.27 499.57,314.27 500.33,314.27 501.09,314.27 501.86,314.27 502.62,314.27 503.38,314.27 504.14,314.27 504.90,314.27 505.67,314.27 506.43,314.27 507.19,314.27 507.95,314.27 508.71,314.27 509.48,314.27 510.24,314.27 511.00,314.27" fill="none" stroke="#222" stroke-width="0.9"/>
<rect x="433.10" y="307.50" width="3.4" height="3.4" fill="#4870aa" transform="rotate(45 434.80 309.20)"/>
<rect x="437.86" y="304.97" width="3.4" height="3.4" fill="#4870aa" transform="rotate(45 439.56 306.67)"/>
<rect x="442.62" y="302.81" width="3.4" height="3.4" fill="#4870aa" transform="rotate(45 444.32 304.51)"/>
<rect x="452.15" y="301.80" width="3.4" height="3.4" fill="#4870aa" transform="rotate(45 453.85 303.50)"/>
<rect x="471.20" y="301.04" width="3.4" height="3.4" fill="#4870aa" transform="rotate(45 472.90 302.74)"/>
<rect x="509.30" y="284.70" width="3.4" height="3.4" fill="#4870aa" transform="rotate(45 511.00 286.40)"/>
<circle cx="434.80" cy="309.20" r="2.45" fill="#111"/>
<circle cx="439.56" cy="306.67" r="2.45" fill="#111"/>
<circle cx="444.32" cy="314.01" r="2.45" fill="#111"/>
<circle cx="453.85" cy="316.29" r="2.45" fill="#111"/>
<circle cx="472.90" cy="315.53" r="2.45" fill="#111"/>
<circle cx="511.00" cy="310.72" r="2.45" fill="#111"/>
<rect x="431.10" y="270.40" width="3.00" height="3.00" fill="#4870aa" />
<circle cx="432.60" cy="277.80" r="2.4" fill="#111"/>
<text x="438.30" y="273.00" font-size="7.6" text-anchor="start" font-weight="normal" fill="#1a1a1a" ><tspan fill="#6585bd">KLF1</tspan> (<tspan font-style="italic">K</tspan><tspan font-size="5.6" dy="3.2">D</tspan><tspan dy="-3.2"> &gt; 500 µmol/L)</tspan></text>
<text x="438.30" y="280.00" font-size="7.6" text-anchor="start" font-weight="normal" fill="#1a1a1a" >p38α</text>
</svg>
</body></html>
